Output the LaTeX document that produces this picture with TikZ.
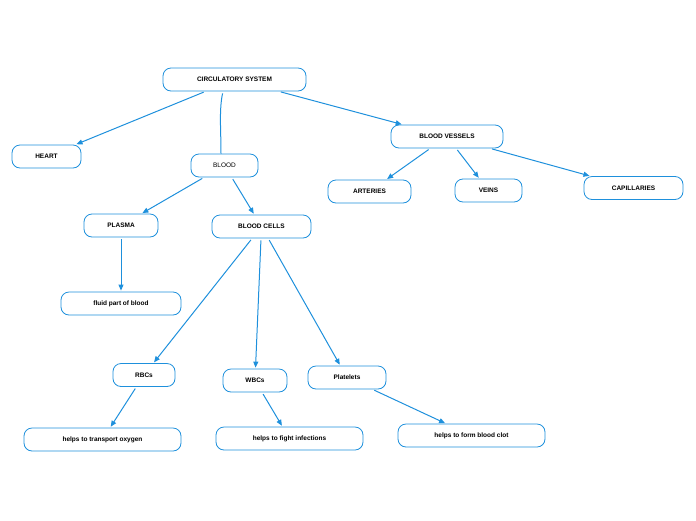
\documentclass[tikz,border=0pt]{standalone}
\usepackage{fontspec}
\setmainfont{Liberation Sans}
\usetikzlibrary{arrows.meta}
\definecolor{bl}{RGB}{30,144,220}
\begin{document}
\begin{tikzpicture}[x=1pt,y=-1pt,
  box/.style={draw=bl,line width=0.8pt,rounded corners=8pt,fill=white,inner sep=0pt,minimum height=23pt,font=\fontsize{6.5}{8}\selectfont\bfseries},
  con/.style={draw=bl,line width=1pt,-{Triangle[length=6pt,width=5pt]},shorten <=2pt,shorten >=1pt}]
\useasboundingbox (0,0) rectangle (696,520);
\node[box,minimum width=143pt] (circ) at (234.5,79.5) {CIRCULATORY SYSTEM};
\node[box,minimum width=69pt] (heart) at (46.5,156.5) {HEART};
\node[box,minimum width=67pt,font=\fontsize{6.5}{8}\selectfont] (blood) at (224.5,165.5) {BLOOD};
\node[box,minimum width=112pt] (bv) at (447,136.5) {BLOOD VESSELS};
\node[box,minimum width=83pt] (art) at (369.5,191.5) {ARTERIES};
\node[box,minimum width=67pt] (veins) at (488.5,190.5) {VEINS};
\node[box,minimum width=99pt] (cap) at (633.5,188) {CAPILLARIES};
\node[box,minimum width=74pt] (plasma) at (121,225.5) {PLASMA};
\node[box,minimum width=99pt] (bc) at (261.5,226.5) {BLOOD CELLS};
\node[box,minimum width=120pt] (fluid) at (121,303.5) {fluid part of blood};
\node[box,minimum width=62pt] (rbc) at (144,375) {RBCs};
\node[box,minimum width=64pt] (wbc) at (255,380.5) {WBCs};
\node[box,minimum width=78pt] (plat) at (347,377.5) {Platelets};
\node[box,minimum width=157pt] (trans) at (102.5,439.5) {helps to transport oxygen};
\node[box,minimum width=147pt] (fight) at (289.5,438.5) {helps to fight infections};
\node[box,minimum width=147pt] (clot) at (471.5,435.5) {helps to form blood clot};
\draw[con] (circ) -- (heart);
\draw[draw=bl,line width=1pt,shorten <=2pt] (circ.south -| 223,0) .. controls (219,110) and (221,130) .. (blood.north -| 221,0);
\draw[con] (circ) -- (bv);
\draw[con] (blood) -- (plasma);
\draw[con] (blood) -- (bc);
\draw[con] (bv) -- (art);
\draw[con] (bv) -- (veins);
\draw[con] (bv) -- (cap);
\draw[con] (plasma) -- (fluid);
\draw[con] (bc) -- (rbc);
\draw[con] (bc) -- (wbc);
\draw[con] (bc) -- (plat);
\draw[con] (rbc) -- (trans);
\draw[con] (wbc) -- (fight);
\draw[con] (plat) -- (clot);
\end{tikzpicture}
\end{document}
